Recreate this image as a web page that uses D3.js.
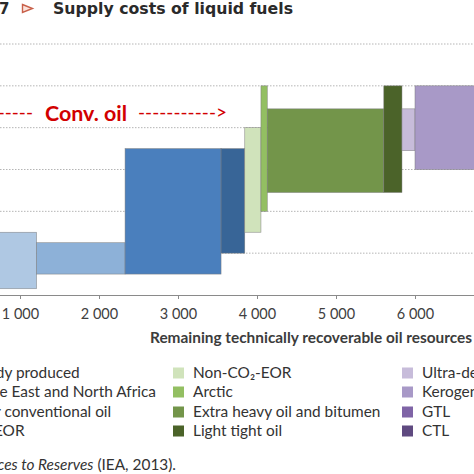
<!DOCTYPE html>
<html><head><meta charset="utf-8">
<script src="https://cdn.jsdelivr.net/npm/d3@7"></script>
<style>html,body{margin:0;padding:0;background:#fff;overflow:hidden}</style>
</head><body>
<svg id="c" width="474" height="474"></svg>
<script>
// ---- data (billion barrels, $/barrel) ----
const categories = ["Already produced","Middle East and North Africa","Other conventional oil","CO₂-EOR","Non-CO₂-EOR","Arctic","Extra heavy oil and bitumen","Light tight oil","Ultra-deepwater","Kerogen oil"];
const resources  = [1210, 1120, 1215, 300, 205, 80, 1475, 230, 165, 1100];
const costLow    = [3, 10, 10, 20, 30, 40, 49, 49, 69, 60];
const costHigh   = [30, 25, 70, 70, 80, 100, 89, 100, 89, 100];
const colors     = ["#afc8e3","#8db1d8","#4a7fbd","#386597","#d0e3bb","#93bf62","#73954a","#4b6329","#c7bcda","#a899c7"];
const legendCols = [
  ["Already produced","Middle East and North Africa","Other conventional oil","CO₂-EOR"],
  ["Non-CO₂-EOR","Arctic","Extra heavy oil and bitumen","Light tight oil"],
  ["Ultra-deepwater","Kerogen oil","GTL","CTL"]
];
const legendColors = [
  ["#afc8e3","#8db1d8","#4a7fbd","#386597"],
  ["#d0e3bb","#93bf62","#73954a","#4b6329"],
  ["#c7bcda","#a899c7","#7f64a6","#5f4a80"]
];
const xTicks = [1000,2000,3000,4000,5000,6000,7000];
const yGrid = [20,40,60,80,100,120];

const svg = d3.select("#c");
const x = d3.scaleLinear().domain([0,1000]).range([-59,20]);
const y = d3.scaleLinear().domain([0,120]).range([295,44]);
const fmt = d3.formatLocale({decimal:".",thousands:"\u00a0",grouping:[3],currency:["",""]}).format(",");
const font = "Lato, 'Open Sans', sans-serif";

// title
svg.append("text").attr("x",-1).attr("y",14).attr("font-family","'DejaVu Sans', sans-serif")
  .attr("font-weight","bold").attr("font-size",15).attr("fill","#2a2a2a").text("7");
svg.append("path").attr("d","M22.5,4.5 L32.5,8.5 L22.5,12.5 Z").attr("fill","#fbe3dc")
  .attr("stroke","#c8604a").attr("stroke-width",1.4);
svg.append("text").attr("x",53).attr("y",14).attr("font-family","'DejaVu Sans', sans-serif")
  .attr("font-weight","bold").attr("font-size",15.5).attr("fill","#2a2a2a")
  .attr("textLength",240).attr("lengthAdjust","spacingAndGlyphs").text("Supply costs of liquid fuels");

// gridlines
svg.append("g").selectAll("line").data(yGrid).join("line")
  .attr("x1",0).attr("x2",474).attr("y1",d=>y(d)).attr("y2",d=>y(d))
  .attr("stroke","#b5b5b5").attr("stroke-width",1).attr("stroke-dasharray","1.5,1.5");

// bars
const starts = d3.cumsum([0, ...resources]);
const bars = categories.map((c,i)=>({c, x0:starts[i], x1:starts[i]+resources[i], lo:costLow[i], hi:costHigh[i], col:colors[i]}));
svg.append("g").selectAll("rect").data(bars).join("rect")
  .attr("x",d=>x(d.x0)).attr("width",d=>x(d.x1)-x(d.x0))
  .attr("y",d=>y(d.hi)).attr("height",d=>y(d.lo)-y(d.hi))
  .attr("fill",d=>d.col).attr("stroke","#7a7a7a").attr("stroke-width",0.6).attr("stroke-opacity",0.8);

// x axis
const ax = svg.append("g").attr("transform","translate(0,295)")
  .call(d3.axisBottom(x).tickValues(xTicks).tickFormat(fmt).tickSize(4).tickSizeOuter(0));
ax.select(".domain").attr("stroke","#8a8a8a").attr("d","M0,0.5H474");
ax.selectAll(".tick line").attr("stroke","#8a8a8a");
ax.selectAll(".tick text").attr("font-family",font).attr("font-size",14.5).attr("fill","#404040").attr("dy",0).attr("y",24);

svg.append("text").attr("x",150).attr("y",343).attr("font-family",font).attr("font-weight","bold")
  .attr("font-size",14.5).attr("fill","#3c3c3c").attr("textLength",322).attr("lengthAdjust","spacingAndGlyphs")
  .text("Remaining technically recoverable oil resources");

// annotation
const red = "#d20000";
svg.append("text").attr("x",33).attr("y",119).attr("text-anchor","end").attr("font-family",font)
  .attr("font-size",19).attr("fill",red).text("------");
svg.append("text").attr("x",45).attr("y",121).attr("font-family",font).attr("font-weight","bold")
  .attr("font-size",21.5).attr("fill",red).attr("textLength",82).attr("lengthAdjust","spacingAndGlyphs").text("Conv. oil");
svg.append("text").attr("x",138).attr("y",119).attr("font-family",font)
  .attr("font-size",19).attr("fill",red).attr("textLength",89).attr("lengthAdjust","spacing").text("----------->");

// legend
const lfs = 15.4;
const rowY = [373,392,412,431];
const probe = svg.append("text").attr("font-family",font).attr("font-size",lfs).text(legendCols[0][1]);
const w1 = probe.node().getComputedTextLength(); probe.remove();
const colTextX = [156 - w1, 193, 422];
legendCols.forEach((col,ci)=>{
  const g = svg.append("g");
  g.selectAll("rect").data(col).join("rect")
    .attr("x",colTextX[ci]-20).attr("y",(d,i)=>rowY[i]-5.5).attr("width",11).attr("height",11)
    .attr("fill",(d,i)=>legendColors[ci][i]);
  g.selectAll("text").data(col).join("text")
    .attr("x",colTextX[ci]).attr("y",(d,i)=>rowY[i]+5).attr("font-family",font).attr("font-size",lfs)
    .attr("fill","#333").text(d=>d);
});

// source
const src = svg.append("text").attr("x",176).attr("y",470).attr("text-anchor","end")
  .attr("font-family",font).attr("font-size",lfs).attr("fill","#333");
src.append("tspan").text("Sources: IEA analysis; ");
src.append("tspan").attr("font-style","italic").text("Resources to Reserves");
src.append("tspan").text(" (IEA, 2013).");
</script>
</body></html>
